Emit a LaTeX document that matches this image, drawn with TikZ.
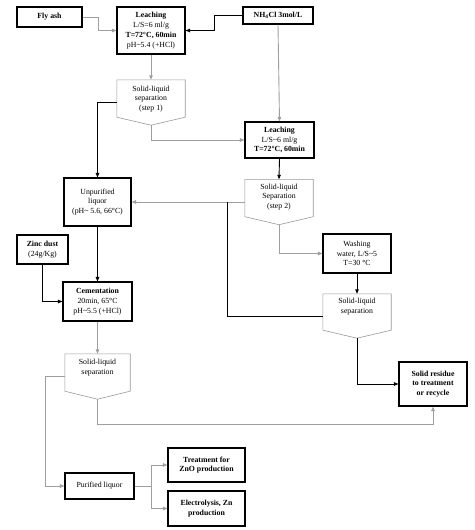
\documentclass[tikz,border=0pt]{standalone}
\usepackage{fontspec}
\setmainfont{Liberation Serif}
\usetikzlibrary{arrows.meta}
\begin{document}
\begin{tikzpicture}[x=1pt,y=-1pt,
  box/.style={draw=black,line width=1.1pt,fill=white,align=center,inner sep=1pt,
    font=\fontsize{7.8}{9.8}\selectfont},
  sep/.style={align=center,inner sep=1pt,font=\fontsize{7.8}{9.8}\selectfont,
    minimum width=68pt,minimum height=45pt,text depth=0pt},
  septext/.style={align=center,inner sep=0pt,font=\fontsize{7.8}{9.8}\selectfont},
  sepline/.style={draw=gray!80,line width=0.6pt},
  gline/.style={draw=gray!75,line width=0.9pt,-{Triangle[length=4.5pt,width=3.5pt]}},
  bline/.style={draw=black,line width=0.9pt,-{Triangle[length=4.5pt,width=3.5pt]}},
  gplain/.style={draw=gray!75,line width=0.9pt},
  bplain/.style={draw=black,line width=0.9pt}]
\useasboundingbox (0,0) rectangle (474,530);

% boxes
\node[box,minimum width=65pt,minimum height=20pt] (flyash) at (49.5,17) {\textbf{Fly ash}};
\node[box,minimum width=68pt,minimum height=47pt] (leach1) at (151,30.5)
  {\textbf{Leaching}\\L/S=6 ml/g\\\textbf{T=72°C, 60min}\\pH\textasciitilde5.4 (+HCl)};
\node[box,minimum width=70pt,minimum height=17pt] (nh4cl) at (278,15.5) {\textbf{NH\textsubscript{4}Cl 3mol/L}};
\node[box,minimum width=69pt,minimum height=36pt] (leach2) at (279.5,140)
  {\textbf{Leaching}\\L/S\textasciitilde6 ml/g\\\textbf{T=72°C, 60min}};
\node[box,minimum width=67pt,minimum height=48pt] (unp) at (97.5,202)
  {Unpurified\\liquor\\(pH\textasciitilde\ 5.6, 66°C)};
\node[box,minimum width=68pt,minimum height=39pt] (wash) at (357,253.5)
  {Washing\\water, L/S\textasciitilde5\\T=30 °C};
\node[box,minimum width=68pt,minimum height=44pt] (residue) at (433,384)
  {\textbf{Solid residue}\\\textbf{to treatment}\\\textbf{or recycle}};
\node[box,minimum width=51pt,minimum height=29pt] (zinc) at (42.5,249.5)
  {\textbf{Zinc dust}\\(24g/Kg)};
\node[box,minimum width=69pt,minimum height=39pt] (cem) at (97.5,301.5)
  {\textbf{Cementation}\\20min, 65°C\\pH\textasciitilde5.5 (+HCl)};
\node[box,minimum width=69pt,minimum height=26pt] (pur) at (99.5,486) {Purified liquor};
\node[box,minimum width=77pt,minimum height=34pt] (zno) at (206.5,465)
  {\textbf{Treatment for}\\\textbf{ZnO production}};
\node[box,minimum width=77pt,minimum height=35pt] (elec) at (206.5,508.5)
  {\textbf{Electrolysis, Zn}\\\textbf{production}};

% separation shapes
\node[sep] (sl1) at (151,102.5) {};
\node[sep] (sl2) at (279,202) {};
\node[sep,minimum height=44pt] (sl3) at (357,316) {};
\node[sep,minimum width=65pt] (sl4) at (97.5,376.5) {};
\foreach \s in {sl1,sl2,sl3,sl4}{
  \draw[sepline,fill=white] (\s.north west) -- (\s.north east) -- ([yshift=8pt]\s.south east)
    -- (\s.south) -- ([yshift=8pt]\s.south west) -- cycle;
}
\node[septext] (t1) at (151,99) {Solid-liquid\\separation\\(step 1)};
\node[septext] (t2) at (279,197) {Solid-liquid\\Separation\\(step 2)};
\node[septext] (t3) at (357,307) {Solid-liquid\\separation};
\node[septext] (t4) at (97.5,368) {Solid-liquid\\separation};

% connectors
\draw[gline] (flyash.east) -- ++(16,0) |- (leach1.west);
\draw[bline] (nh4cl.west) -- ++(-28,0) |- (leach1.east);
\draw[gline] (nh4cl.south) -- (leach2.north);
\draw[gline] (leach1.south) -- (sl1.north);
\draw[bline] (sl1.west) -| (unp.north);
\draw[gline] (sl1.south) |- (leach2.west);
\draw[bline] (leach2.south) -- (sl2.north);
\coordinate (j) at (227,202);
\draw[gline] (sl2.west) -- (unp.east);
\draw[bplain] (sl3.west) -| (j);
\draw[gline] (sl2.south) |- (wash.west);
\draw[bline] (wash.south) -- (sl3.north);
\draw[bline] (sl3.south) |- (residue.west);
\draw[bline] (unp.south) -- (cem.north);
\draw[bline] (zinc.south) |- (cem.west);
\draw[gline] (cem.south) -- (sl4.north);
\draw[gline] (sl4.west) -- ++(-19,0) |- (pur.west);
\draw[gline] (sl4.south) -- ++(0,25) -| (residue.south);
\draw[gplain] (pur.east) -- ++(17,0) coordinate (sp);
\draw[gline] (sp) |- (zno.west);
\draw[gline] (sp) |- (elec.west);
\end{tikzpicture}
\end{document}
